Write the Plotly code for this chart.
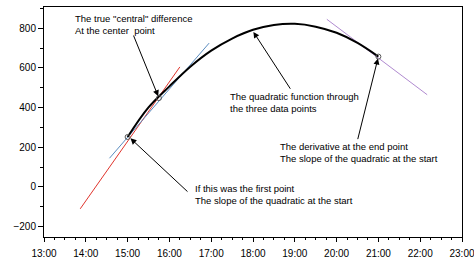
import plotly.graph_objects as go

day = "2000-01-01 "
# quadratic curve
curve_t = ["15:00", "15:30", "16:00", "16:30", "17:00", "17:30", "18:00", "18:30", "19:00", "19:30", "20:00", "20:30", "21:00"]
curve_v = [252, 401, 507, 606, 687, 748, 792, 816, 822, 808, 777, 726, 657]
# the three data points
pts_t = ["15:00", "15:45", "21:00"]
pts_v = [252, 448, 657]
# tangent / difference lines
red_t = ["13:52", "16:15"]
red_v = [-110, 605]
blue_t = ["14:34", "16:57"]
blue_v = [145, 725]
purple_t = ["19:46", "22:10"]
purple_v = [845, 465]

def d(ts):
    return [day + t for t in ts]

fig = go.Figure()
fig.add_trace(go.Scatter(x=d(red_t), y=red_v, mode="lines", line=dict(color="#e0342c", width=1)))
fig.add_trace(go.Scatter(x=d(blue_t), y=blue_v, mode="lines", line=dict(color="#5a8cc0", width=1)))
fig.add_trace(go.Scatter(x=d(purple_t), y=purple_v, mode="lines", line=dict(color="#b08ad0", width=1)))
fig.add_trace(go.Scatter(x=d(curve_t), y=curve_v, mode="lines", line=dict(color="black", width=2, shape="spline")))
fig.add_trace(go.Scatter(x=d(pts_t), y=pts_v, mode="markers",
                         marker=dict(symbol="circle-open", size=5, color="#555555", line=dict(width=1))))

font = dict(family="Liberation Sans, Arial, sans-serif", size=9.5, color="black")
texts = [
    ("13:41", 819, "The true \"central\" difference<br>At the center  point"),
    ("17:24", 424, "The quadratic function through<br>the three data points"),
    ("18:36", 176, "The derivative at the end point<br>The slope of the quadratic at the start"),
    ("16:34", -40, "If this was the first point<br>The slope of the quadratic at the start"),
]
for t, v, s in texts:
    fig.add_annotation(x=day + t, y=v, text=s, showarrow=False, xanchor="left", yanchor="middle",
                       align="left", font=font)

arrows = [
    ("15:45", 448, -26, -64),
    ("17:59", 790, 39, 60),
    ("21:00", 657, -21, 84),
    ("15:02", 252, 60, 56),
]
for t, v, ax, ay in arrows:
    fig.add_annotation(x=day + t, y=v, text="", showarrow=True, arrowhead=2, arrowsize=1.2,
                       arrowwidth=1, arrowcolor="black", ax=ax, ay=ay, standoff=2)

fig.update_layout(
    width=474, height=258, showlegend=False,
    margin=dict(l=44, r=12, t=7, b=21, autoexpand=False),
    plot_bgcolor="white", paper_bgcolor="white",
    font=dict(family="Liberation Sans, Arial, sans-serif", size=10, color="black"),
)
fig.update_xaxes(
    type="date", range=[day + "13:00", day + "23:00"], tickformat="%H:%M",
    dtick=3600000, tick0=day + "13:00", automargin=False,
    showgrid=False, zeroline=False, showline=True, linecolor="black", linewidth=1, mirror=True,
    ticks="outside", ticklen=4, tickcolor="black", ticklabeloverflow="allow", ticklabelstandoff=3,
    minor=dict(dtick=900000, ticks="outside", ticklen=2, tickcolor="black", showgrid=False),
)
fig.update_yaxes(
    range=[-252, 907], dtick=200, tick0=0, automargin=False,
    showgrid=False, zeroline=False, showline=True, linecolor="black", linewidth=1, mirror=True,
    ticks="outside", ticklen=5, tickcolor="black",
    minor=dict(dtick=100, ticks="outside", ticklen=3, tickcolor="black", showgrid=False),
)
fig.write_html("out.html")
